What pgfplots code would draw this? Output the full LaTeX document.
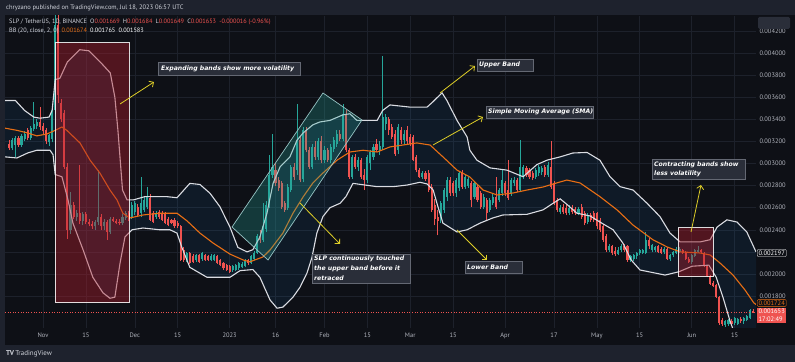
\documentclass[border=0pt]{standalone}
\usepackage{pgfplots}
\pgfplotsset{compat=1.18}
\usepackage{pgfplotstable}
\usetikzlibrary{arrows.meta}
\usepackage{fontspec}
\setmainfont{PT Sans}
\newfontfamily\annfont{DejaVu Sans}
\newcommand\fs[1]{\fontsize{#1}{#1}\selectfont}
\definecolor{frame}{RGB}{30,34,45}
\definecolor{panel}{RGB}{14,16,22}
\definecolor{gridc}{RGB}{29,33,43}
\definecolor{upc}{RGB}{38,166,154}
\definecolor{dnc}{RGB}{239,83,80}
\definecolor{bandc}{RGB}{218,220,226}
\definecolor{bandfill}{RGB}{33,150,243}
\definecolor{smac}{RGB}{232,110,20}
\definecolor{txt}{RGB}{178,181,190}
\definecolor{hdr}{RGB}{209,212,220}
\definecolor{ylw}{RGB}{222,206,40}
\definecolor{boxc}{RGB}{42,46,57}
\definecolor{boxe}{RGB}{100,104,115}
\definecolor{boxred}{RGB}{175,30,45}
\definecolor{tealedge}{RGB}{150,195,195}

\pgfplotstableread{
d o h l c
-10 0.00314 0.00323 0.00312 0.00321
-9 0.00317 0.00325 0.00306 0.00323
-7 0.00317 0.00327 0.00315 0.00325
-6 0.00322 0.00329 0.00320 0.00327
-4 0.00323 0.00334 0.00321 0.00332
-3 0.00331 0.00356 0.00329 0.00336
-2 0.00334 0.00340 0.00331 0.00338
2 0.00319 0.00327 0.00316 0.00326
3 0.00322 0.00350 0.00319 0.00348
4 0.00348 0.00450 0.00345 0.00425
9 0.00240 0.00274 0.00236 0.00262
11 0.00252 0.00258 0.00248 0.00255
13 0.00248 0.00256 0.00244 0.00254
17 0.00243 0.00249 0.00240 0.00247
18 0.00247 0.00294 0.00244 0.00252
20 0.00243 0.00250 0.00240 0.00247
22 0.00238 0.00252 0.00236 0.00250
26 0.00246 0.00254 0.00244 0.00252
27 0.00251 0.00257 0.00249 0.00255
29 0.00252 0.00265 0.00250 0.00262
30 0.00256 0.00266 0.00253 0.00264
32 0.00255 0.00288 0.00252 0.00264
33 0.00258 0.00270 0.00256 0.00267
34 0.00261 0.00279 0.00259 0.00270
37 0.00252 0.00257 0.00250 0.00255
47 0.00213 0.00220 0.00211 0.00219
50 0.00213 0.00218 0.00211 0.00217
52 0.00214 0.00220 0.00212 0.00219
55 0.00213 0.00218 0.00212 0.00216
56 0.00213 0.00218 0.00212 0.00217
62 0.00204 0.00208 0.00202 0.00207
63 0.00204 0.00209 0.00203 0.00208
64 0.00205 0.00211 0.00204 0.00210
65 0.00206 0.00211 0.00205 0.00209
66 0.00207 0.00214 0.00206 0.00213
68 0.00210 0.00217 0.00209 0.00216
69 0.00214 0.00221 0.00213 0.00219
70 0.00219 0.00236 0.00218 0.00234
72 0.00231 0.00264 0.00229 0.00243
73 0.00241 0.00266 0.00238 0.00262
74 0.00262 0.00308 0.00260 0.00290
75 0.00290 0.00327 0.00287 0.00297
80 0.00260 0.00281 0.00258 0.00279
81 0.00276 0.00299 0.00274 0.00297
83 0.00294 0.00354 0.00290 0.00321
85 0.00286 0.00333 0.00283 0.00330
88 0.00297 0.00318 0.00295 0.00315
90 0.00306 0.00323 0.00303 0.00320
92 0.00303 0.00316 0.00300 0.00312
94 0.00303 0.00318 0.00300 0.00315
95 0.00313 0.00324 0.00310 0.00321
96 0.00318 0.00330 0.00315 0.00327
98 0.00322 0.00354 0.00320 0.00345
101 0.00288 0.00308 0.00286 0.00306
103 0.00297 0.00306 0.00293 0.00303
106 0.00285 0.00308 0.00282 0.00306
107 0.00300 0.00312 0.00294 0.00310
108 0.00306 0.00318 0.00303 0.00315
110 0.00312 0.00320 0.00308 0.00316
111 0.00315 0.00397 0.00312 0.00342
112 0.00336 0.00345 0.00330 0.00342
116 0.00312 0.00336 0.00309 0.00333
118 0.00321 0.00330 0.00318 0.00327
124 0.00288 0.00293 0.00286 0.00291
130 0.00250 0.00266 0.00246 0.00264
131 0.00258 0.00278 0.00255 0.00276
132 0.00270 0.00288 0.00266 0.00285
135 0.00273 0.00287 0.00270 0.00285
136 0.00278 0.00293 0.00275 0.00291
138 0.00279 0.00290 0.00277 0.00288
139 0.00280 0.00288 0.00278 0.00286
141 0.00270 0.00284 0.00268 0.00282
144 0.00261 0.00272 0.00259 0.00270
146 0.00258 0.00269 0.00256 0.00267
147 0.00264 0.00272 0.00262 0.00270
149 0.00267 0.00278 0.00265 0.00276
150 0.00273 0.00294 0.00271 0.00285
153 0.00273 0.00287 0.00271 0.00285
154 0.00282 0.00288 0.00280 0.00285
156 0.00276 0.00321 0.00274 0.00297
157 0.00288 0.00299 0.00286 0.00297
161 0.00288 0.00296 0.00286 0.00294
162 0.00291 0.00299 0.00289 0.00297
163 0.00292 0.00298 0.00290 0.00296
165 0.00290 0.00301 0.00288 0.00299
169 0.00256 0.00262 0.00254 0.00260
172 0.00255 0.00262 0.00253 0.00260
175 0.00255 0.00261 0.00253 0.00259
178 0.00247 0.00255 0.00245 0.00253
185 0.00222 0.00227 0.00220 0.00225
188 0.00218 0.00224 0.00217 0.00222
189 0.00222 0.00227 0.00220 0.00225
192 0.00213 0.00217 0.00211 0.00216
193 0.00214 0.00218 0.00212 0.00217
194 0.00216 0.00220 0.00214 0.00219
195 0.00219 0.00223 0.00217 0.00222
196 0.00219 0.00223 0.00218 0.00222
197 0.00219 0.00238 0.00218 0.00231
199 0.00222 0.00227 0.00220 0.00226
200 0.00222 0.00225 0.00220 0.00224
203 0.00220 0.00224 0.00218 0.00223
205 0.00214 0.00218 0.00212 0.00217
206 0.00217 0.00221 0.00215 0.00220
207 0.00219 0.00224 0.00218 0.00223
208 0.00220 0.00224 0.00219 0.00223
212 0.00211 0.00218 0.00209 0.00217
213 0.00216 0.00223 0.00215 0.00222
214 0.00220 0.00225 0.00219 0.00222
223 0.00154 0.00158 0.00152 0.00157
224 0.00155 0.00159 0.00153 0.00158
226 0.00156 0.00161 0.00154 0.00160
227 0.00155 0.00160 0.00154 0.00159
229 0.00157 0.00161 0.00155 0.00160
230 0.00158 0.00163 0.00157 0.00162
231 0.00160 0.00168 0.00159 0.00167
}\updata

\pgfplotstableread{
d o h l c
-11 0.00318 0.00321 0.00312 0.00314
-8 0.00323 0.00325 0.00315 0.00317
-5 0.00330 0.00332 0.00321 0.00323
-1 0.00338 0.00351 0.00330 0.00333
0 0.00334 0.00337 0.00327 0.00329
1 0.00330 0.00332 0.00318 0.00320
5 0.00425 0.00440 0.00355 0.00362
6 0.00355 0.00358 0.00338 0.00340
7 0.00346 0.00348 0.00295 0.00297
8 0.00297 0.00300 0.00232 0.00240
10 0.00262 0.00265 0.00250 0.00252
12 0.00255 0.00299 0.00245 0.00248
14 0.00254 0.00256 0.00245 0.00247
15 0.00247 0.00250 0.00243 0.00245
16 0.00245 0.00248 0.00241 0.00243
19 0.00252 0.00254 0.00240 0.00243
21 0.00247 0.00249 0.00231 0.00238
23 0.00250 0.00252 0.00247 0.00248
24 0.00248 0.00250 0.00245 0.00246
25 0.00247 0.00250 0.00244 0.00246
28 0.00255 0.00257 0.00248 0.00250
31 0.00261 0.00263 0.00252 0.00253
35 0.00269 0.00272 0.00248 0.00249
36 0.00255 0.00257 0.00246 0.00247
38 0.00256 0.00258 0.00250 0.00252
39 0.00255 0.00257 0.00248 0.00249
40 0.00255 0.00256 0.00245 0.00246
41 0.00250 0.00252 0.00243 0.00244
42 0.00249 0.00250 0.00245 0.00246
43 0.00249 0.00251 0.00242 0.00243
44 0.00246 0.00248 0.00242 0.00243
45 0.00243 0.00244 0.00212 0.00213
46 0.00222 0.00224 0.00211 0.00213
48 0.00219 0.00220 0.00209 0.00210
49 0.00216 0.00218 0.00210 0.00211
51 0.00217 0.00218 0.00210 0.00211
53 0.00217 0.00218 0.00212 0.00213
54 0.00216 0.00217 0.00212 0.00213
57 0.00216 0.00217 0.00209 0.00210
58 0.00213 0.00214 0.00207 0.00208
59 0.00210 0.00211 0.00204 0.00205
60 0.00208 0.00209 0.00203 0.00204
61 0.00207 0.00208 0.00201 0.00202
67 0.00213 0.00214 0.00208 0.00210
71 0.00234 0.00240 0.00228 0.00231
76 0.00294 0.00300 0.00280 0.00282
77 0.00285 0.00288 0.00275 0.00278
78 0.00282 0.00284 0.00259 0.00261
79 0.00264 0.00266 0.00256 0.00258
82 0.00297 0.00300 0.00285 0.00288
84 0.00321 0.00325 0.00283 0.00285
86 0.00330 0.00333 0.00310 0.00312
87 0.00312 0.00315 0.00295 0.00297
89 0.00315 0.00320 0.00303 0.00306
91 0.00320 0.00325 0.00300 0.00303
93 0.00312 0.00314 0.00301 0.00303
97 0.00327 0.00330 0.00320 0.00322
99 0.00345 0.00348 0.00310 0.00312
100 0.00312 0.00314 0.00286 0.00288
102 0.00306 0.00309 0.00295 0.00297
104 0.00303 0.00305 0.00286 0.00288
105 0.00290 0.00295 0.00276 0.00285
109 0.00318 0.00322 0.00310 0.00312
113 0.00340 0.00342 0.00326 0.00330
114 0.00333 0.00336 0.00322 0.00324
115 0.00327 0.00330 0.00307 0.00309
117 0.00330 0.00333 0.00318 0.00321
119 0.00330 0.00334 0.00318 0.00320
120 0.00324 0.00327 0.00316 0.00318
121 0.00324 0.00326 0.00302 0.00303
122 0.00306 0.00308 0.00292 0.00294
123 0.00294 0.00296 0.00287 0.00288
125 0.00291 0.00293 0.00284 0.00286
126 0.00291 0.00294 0.00274 0.00276
127 0.00279 0.00281 0.00256 0.00258
128 0.00262 0.00268 0.00244 0.00250
129 0.00252 0.00258 0.00235 0.00248
133 0.00285 0.00288 0.00271 0.00273
134 0.00282 0.00284 0.00271 0.00273
137 0.00291 0.00294 0.00277 0.00279
140 0.00282 0.00284 0.00261 0.00267
142 0.00279 0.00281 0.00265 0.00267
143 0.00273 0.00275 0.00259 0.00261
145 0.00267 0.00269 0.00249 0.00255
148 0.00270 0.00288 0.00259 0.00261
151 0.00282 0.00284 0.00271 0.00273
152 0.00276 0.00303 0.00267 0.00269
155 0.00285 0.00287 0.00274 0.00276
158 0.00296 0.00298 0.00288 0.00290
159 0.00294 0.00296 0.00286 0.00288
160 0.00291 0.00293 0.00285 0.00287
164 0.00297 0.00299 0.00288 0.00290
166 0.00297 0.00320 0.00277 0.00279
167 0.00282 0.00284 0.00262 0.00264
168 0.00267 0.00269 0.00256 0.00258
170 0.00261 0.00263 0.00254 0.00256
171 0.00260 0.00262 0.00253 0.00255
173 0.00260 0.00262 0.00254 0.00256
174 0.00259 0.00261 0.00253 0.00255
176 0.00261 0.00263 0.00250 0.00252
177 0.00255 0.00257 0.00244 0.00246
179 0.00253 0.00255 0.00247 0.00249
180 0.00255 0.00257 0.00247 0.00249
181 0.00255 0.00256 0.00241 0.00243
182 0.00249 0.00251 0.00238 0.00240
183 0.00243 0.00245 0.00229 0.00231
184 0.00234 0.00236 0.00220 0.00222
186 0.00225 0.00226 0.00217 0.00219
187 0.00221 0.00224 0.00216 0.00218
190 0.00225 0.00227 0.00220 0.00222
191 0.00225 0.00226 0.00211 0.00213
198 0.00231 0.00233 0.00223 0.00225
201 0.00225 0.00226 0.00219 0.00220
202 0.00223 0.00224 0.00218 0.00219
204 0.00223 0.00224 0.00213 0.00214
209 0.00222 0.00223 0.00218 0.00219
210 0.00220 0.00221 0.00213 0.00214
211 0.00214 0.00215 0.00210 0.00211
215 0.00222 0.00223 0.00219 0.00220
216 0.00219 0.00220 0.00206 0.00207
217 0.00207 0.00208 0.00197 0.00198
218 0.00198 0.00199 0.00190 0.00191
219 0.00192 0.00194 0.00188 0.00189
220 0.00190 0.00191 0.00178 0.00179
221 0.00179 0.00180 0.00154 0.00156
222 0.00158 0.00160 0.00153 0.00155
225 0.00157 0.00159 0.00154 0.00155
228 0.00159 0.00161 0.00156 0.00157
232 0.001669 0.001684 0.001649 0.001653
}\dndata

\pgfplotstableread{
d p
-12.4 0.00357
-9 0.00357
-6 0.00348
-3 0.00342
-1 0.00341
2 0.00342
3 0.00348
4 0.00376
5.5 0.00377
8 0.00392
12 0.00403
15 0.00402
19 0.00391
22 0.00382
23.5 0.00360
24.5 0.00330
26 0.00276
27.5 0.00267
29.5 0.00267
33.3 0.00270
40.5 0.00270
43.8 0.00269
48 0.00282
51.3 0.00281
54.6 0.00273
57.8 0.00261
61.1 0.002425
63.7 0.00224
66.7 0.00220
68.6 0.00222
70.9 0.002335
73.2 0.00255
75.2 0.00282
77.5 0.00297
80.7 0.00306
83 0.00321
85 0.003276
88.2 0.00335
90.5 0.003376
93.8 0.00339
98 0.00344
100.3 0.00345
102.6 0.00339
109.2 0.00339
111 0.00348
113.4 0.00353
120 0.00351
125.5 0.00351
127.5 0.00356
130.4 0.00364
132 0.00357
135.3 0.00339
138.6 0.00324
139.5 0.00312
141.8 0.00303
146.1 0.00296
151.6 0.00294
156.9 0.00288
161.4 0.00299
164.7 0.00303
169 0.00306
173.2 0.003095
177.8 0.00310
182 0.00303
185.3 0.00288
188.6 0.00279
192.8 0.00276
197.4 0.00264
201.6 0.00252
204.9 0.00237
208.2 0.00229
214.7 0.00229
218 0.00231
220.3 0.002425
223.5 0.00249
226.8 0.00247
230 0.00238
233 0.00220
}\upperband

\pgfplotstableread{
d p
-12.4 0.00306
-8.5 0.00305
-5 0.003095
-2 0.00312
2.3 0.00312
3.3 0.00308
4 0.00290
6.2 0.00288
8.2 0.00267
9.8 0.00246
13.1 0.00222
16.3 0.00197
19.6 0.00183
21.9 0.00178
23.5 0.00179
25.2 0.00210
26.8 0.002335
29.1 0.00240
32.7 0.002416
38.2 0.00240
41.5 0.00240
43.8 0.00237
45.4 0.00224
48 0.00206
53.6 0.00197
61.1 0.00197
64.4 0.00203
68.6 0.00204
70.9 0.00197
72.5 0.00187
74.2 0.001765
76.5 0.00169
78.4 0.00170
81.7 0.00179
84 0.00188
86.3 0.00201
87.9 0.00215
89.5 0.00237
91.5 0.00252
93.8 0.00260
97.1 0.00264
99 0.00270
101.3 0.00282
109.2 0.00279
114.4 0.00279
119 0.002805
123.2 0.00283
125.5 0.002815
127.5 0.00276
129.1 0.002606
130.7 0.00246
135.3 0.00238
138.6 0.00240
142.8 0.00246
147 0.002507
150.3 0.002534
158.2 0.00254
163.4 0.00258
166.7 0.00264
169 0.00268
171.2 0.00263
174.5 0.00255
178.8 0.002525
182 0.00247
186.3 0.00240
189.5 0.00228
192.2 0.002127
195.1 0.002036
203.3 0.00199
207.8 0.00202
212.1 0.00207
217.6 0.00208
220 0.00197
222.2 0.00179
224.5 0.001575
226.8 0.00140
230 0.00130
233 0.00125
}\lowerband

% band area: upper band forward, then lower band backward
\pgfplotstableread{
d p
-12.4 0.00357
-9 0.00357
-6 0.00348
-3 0.00342
-1 0.00341
2 0.00342
3 0.00348
4 0.00376
5.5 0.00377
8 0.00392
12 0.00403
15 0.00402
19 0.00391
22 0.00382
23.5 0.00360
24.5 0.00330
26 0.00276
27.5 0.00267
29.5 0.00267
33.3 0.00270
40.5 0.00270
43.8 0.00269
48 0.00282
51.3 0.00281
54.6 0.00273
57.8 0.00261
61.1 0.002425
63.7 0.00224
66.7 0.00220
68.6 0.00222
70.9 0.002335
73.2 0.00255
75.2 0.00282
77.5 0.00297
80.7 0.00306
83 0.00321
85 0.003276
88.2 0.00335
90.5 0.003376
93.8 0.00339
98 0.00344
100.3 0.00345
102.6 0.00339
109.2 0.00339
111 0.00348
113.4 0.00353
120 0.00351
125.5 0.00351
127.5 0.00356
130.4 0.00364
132 0.00357
135.3 0.00339
138.6 0.00324
139.5 0.00312
141.8 0.00303
146.1 0.00296
151.6 0.00294
156.9 0.00288
161.4 0.00299
164.7 0.00303
169 0.00306
173.2 0.003095
177.8 0.00310
182 0.00303
185.3 0.00288
188.6 0.00279
192.8 0.00276
197.4 0.00264
201.6 0.00252
204.9 0.00237
208.2 0.00229
214.7 0.00229
218 0.00231
220.3 0.002425
223.5 0.00249
226.8 0.00247
230 0.00238
233 0.00220
233 0.00125
230 0.00130
226.8 0.00140
224.5 0.001575
222.2 0.00179
220 0.00197
217.6 0.00208
212.1 0.00207
207.8 0.00202
203.3 0.00199
195.1 0.002036
192.2 0.002127
189.5 0.00228
186.3 0.00240
182 0.00247
178.8 0.002525
174.5 0.00255
171.2 0.00263
169 0.00268
166.7 0.00264
163.4 0.00258
158.2 0.00254
150.3 0.002534
147 0.002507
142.8 0.00246
138.6 0.00240
135.3 0.00238
130.7 0.00246
129.1 0.002606
127.5 0.00276
125.5 0.002815
123.2 0.00283
119 0.002805
114.4 0.00279
109.2 0.00279
101.3 0.00282
99 0.00270
97.1 0.00264
93.8 0.00260
91.5 0.00252
89.5 0.00237
87.9 0.00215
86.3 0.00201
84 0.00188
81.7 0.00179
78.4 0.00170
76.5 0.00169
74.2 0.001765
72.5 0.00187
70.9 0.00197
68.6 0.00204
64.4 0.00203
61.1 0.00197
53.6 0.00197
48 0.00206
45.4 0.00224
43.8 0.00237
41.5 0.00240
38.2 0.00240
32.7 0.002416
29.1 0.00240
26.8 0.002335
25.2 0.00210
23.5 0.00179
21.9 0.00178
19.6 0.00183
16.3 0.00197
13.1 0.00222
9.8 0.00246
8.2 0.00267
6.2 0.00288
4 0.00290
3.3 0.00308
2.3 0.00312
-2 0.00312
-5 0.003095
-8.5 0.00305
-12.4 0.00306
}\bandarea

\pgfplotstableread{
d p
-12.4 0.00332
-8.5 0.00330
-5 0.003276
-2 0.00325
1.3 0.003267
4 0.00330
6.2 0.00333
7.8 0.00330
12.1 0.003186
15.4 0.00303
18.6 0.002914
21.9 0.00276
24.2 0.00267
26.1 0.00255
28.4 0.002507
32.7 0.002534
38.2 0.00255
43.8 0.00255
47.1 0.00248
51.3 0.00237
55.6 0.00228
61.1 0.00218
65.4 0.002127
67.6 0.00211
71.9 0.002154
74.2 0.002217
78.4 0.00237
81.7 0.00255
85 0.002697
88.2 0.002824
91.5 0.002914
96.1 0.00303
100.3 0.003104
104.6 0.00312
109.2 0.003104
113.4 0.00315
117.6 0.003167
122.2 0.003186
126.5 0.003167
130.7 0.00306
135.3 0.00294
139.5 0.002878
143.8 0.00276
148.4 0.002715
153.6 0.002733
158.2 0.00276
163.4 0.002787
169 0.002833
171.2 0.00285
175.5 0.002824
182 0.00270
187.6 0.00258
192.8 0.002443
199.3 0.00231
204 0.002244
208.2 0.00220
214.7 0.00219
218 0.002172
221.2 0.00210
225.5 0.00199
229.4 0.001855
232.3 0.001738
233 0.001724
}\smaband

\tikzset{
  abox/.style={fill=boxc, draw=boxe, line width=0.6bp},
  atxt/.style={text=white, font=\annfont\fs{6.2}\bfseries\itshape, anchor=west, inner sep=0pt},
  arr/.style={draw=ylw, line width=0.8bp, -{Straight Barb[length=3.5bp,width=7bp]}},
}

\begin{document}
\begin{tikzpicture}
\useasboundingbox (0,0) rectangle (795bp,362bp);
\fill[frame] (0,0) rectangle (795bp,362bp);
\fill[panel] (5bp,17bp) rectangle (795bp,347bp);
\begin{axis}[
  at={(5bp,34bp)}, anchor=south west,
  scale only axis, width=751bp, height=312bp,
  xmin=-12.4, xmax=233, ymin=0.001511, ymax=0.004335,
  axis line style={draw=none}, major tick length=0pt,
  grid=major, major grid style={draw=gridc, line width=0.5bp},
  xtick={0,14,30,44,61,76,92,106,120,134,151,167,181,195,212,226},
  xticklabels={Nov,15,Dec,15,2023,16,Feb,15,Mar,15,Apr,17,May,15,Jun,15},
  xticklabel style={font=\fs{6.5}, text=txt, yshift=-1bp},
  ytick={0.0018,0.002,0.0022,0.0024,0.0026,0.0028,0.003,0.0032,0.0034,0.0036,0.0038,0.004,0.0042},
  yticklabel pos=right,
  yticklabel style={font=\fs{6.5}, text=txt, /pgf/number format/.cd, fixed, fixed zerofill, precision=6, assume math mode=true},
  scaled y ticks=false,
]
\addplot[fill=bandfill, fill opacity=0.08, draw=none] table[x=d,y=p] {\bandarea};
% wicks
\addplot[upc, line width=0.7bp, quiver={u=0, v=\thisrow{h}-\thisrow{l}}] table[x=d, y=l] {\updata};
\addplot[dnc, line width=0.7bp, quiver={u=0, v=\thisrow{h}-\thisrow{l}}] table[x=d, y=l] {\dndata};
% bodies
\addplot[upc, line width=2.1bp, quiver={u=0, v=\thisrow{c}-\thisrow{o}}] table[x=d, y=o] {\updata};
\addplot[dnc, line width=2.1bp, quiver={u=0, v=\thisrow{o}-\thisrow{c}}] table[x=d, y=c] {\dndata};
% bands
\addplot[bandc, line width=1.1bp, mark=none] table[x=d,y=p] {\upperband};
\addplot[bandc, line width=1.1bp, mark=none] table[x=d,y=p] {\lowerband};
\addplot[smac, line width=1.1bp, mark=none] table[x=d,y=p] {\smaband};
\end{axis}

\begin{scope}[x=1bp,y=-1bp,yshift=362bp]
\draw[dnc, dotted, line width=0.6bp] (5,312) -- (756,312);
\fill[boxred, fill opacity=0.42] (55,43) rectangle (129,303);
\draw[white, draw opacity=0.85, line width=1bp] (55,43) rectangle (129,303);
\fill[boxred, fill opacity=0.42] (678,228) rectangle (713,277);
\draw[white, draw opacity=0.85, line width=1bp] (678,228) rectangle (713,277);
\fill[upc, fill opacity=0.28] (232,227) -- (323,93) -- (362,120) -- (268,260) -- cycle;
\draw[tealedge, line width=0.7bp] (232,227) -- (323,93) -- (362,120) -- (268,260) -- cycle;
\draw[arr] (120,104) -- (154,82);
\draw[arr] (440,93) -- (475,66);
\draw[arr] (433,145) -- (483,117);
\draw[arr] (457,230) -- (487,260);
\draw[arr] (300,203) -- (340,244);
\draw[arr] (691,232) -- (701,185);
\draw[abox] (158,62) rectangle (300,75);
\node[atxt] at (161,68.5) {Expanding bands show more volatility};
\draw[abox] (477,59) rectangle (533,71);
\node[atxt] at (479,65) {Upper Band};
\draw[abox] (486,106) rectangle (593,118);
\node[atxt] at (488,112) {Simple Moving Average (SMA)};
\draw[abox] (465,261) rectangle (522,273);
\node[atxt] at (467,267) {Lower Band};
\draw[abox] (312,254) rectangle (410,283);
\node[atxt] at (314,259) {SLP continuously touched};
\node[atxt] at (314,268.5) {the upper band before it};
\node[atxt] at (314,278) {retraced};
\draw[abox] (652,159) rectangle (745,179);
\node[atxt] at (654,164.5) {Contracting bands show};
\node[atxt] at (654,173.5) {less volatility};
\node[anchor=west, text=hdr, font=\fs{6.5}, inner sep=0pt] at (6,7.5) {chryzano published on TradingView.com, Jul 18, 2023 06:57 UTC};
\node[anchor=west, text=hdr, font=\fs{6.3}, inner sep=0pt] at (9,22) {SLP / TetherUS, 1D, BINANCE\enspace O\textcolor{dnc}{0.001669}\enspace H\textcolor{dnc}{0.001684}\enspace L\textcolor{dnc}{0.001649}\enspace C\textcolor{dnc}{0.001653}\enspace\textcolor{dnc}{-0.000016 (-0.96\%)}};
\node[anchor=west, text=hdr, font=\fs{6.3}, inner sep=0pt] at (9,31) {BB (20, close, 2, 0)\enspace\textcolor{smac}{0.001674}\enspace\textcolor{white}{0.001765}\enspace\textcolor{white}{0.001583}};
\fill[boxc, rounded corners=1.5bp] (758,17) rectangle (790,29);
\node[anchor=west, fill=panel, draw=white, rounded corners=1bp, inner xsep=1.5bp, inner ysep=1.2bp, text=white, font=\fs{6.5}] at (757,253) {0.002197};
\node[anchor=west, fill=panel, draw=smac, rounded corners=1bp, inner xsep=1.5bp, inner ysep=1bp, text=smac, font=\fs{6.5}] at (757,303) {0.001724};
\node[anchor=north west, fill=dnc, text=white, align=left, font=\fontsize{6.5}{8}\selectfont, inner xsep=1.5bp, inner ysep=1.2bp] at (757,307.5) {0.001653\\17:02:49};
\node[anchor=west, text=hdr, font=\fs{7}, inner sep=0pt] at (6,353.5) {\textbf{TV}\,TradingView};
\end{scope}
\end{tikzpicture}
\end{document}
